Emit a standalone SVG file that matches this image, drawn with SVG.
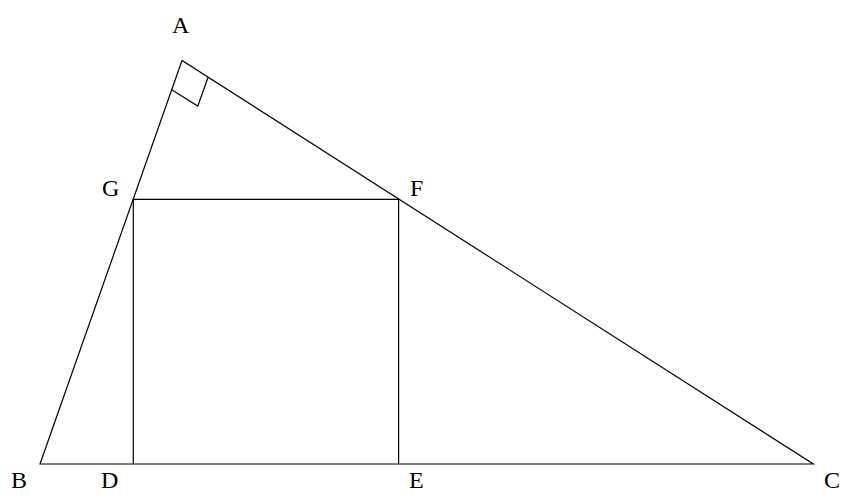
<svg xmlns="http://www.w3.org/2000/svg" width="853" height="504" viewBox="0 0 853 504">
<style>
.l{stroke:#000;stroke-width:1.2;fill:none}
.t{font-family:"Liberation Serif","Times New Roman",serif;font-size:24px;fill:#000}
</style>
<rect width="853" height="504" fill="#fff"/>
<g id="connectors">
<polygon class="l" points="182,60.5 40,464 813.3,464"/>
<polyline class="l" points="133.3,464 133.3,199.3 398.6,199.3 398.6,464"/>
<polyline class="l" points="171.7,89.7 197.8,106 208.1,77.2"/>
</g>
<g id="A"><text class="t" x="172" y="33">A</text></g>
<g id="B"><text class="t" x="11" y="488">B</text></g>
<g id="C"><text class="t" x="824" y="488">C</text></g>
<g id="D"><text class="t" x="101" y="488">D</text></g>
<g id="E"><text class="t" x="409" y="488">E</text></g>
<g id="F"><text class="t" x="410" y="196">F</text></g>
<g id="G"><text class="t" x="102" y="196">G</text></g>
</svg>
